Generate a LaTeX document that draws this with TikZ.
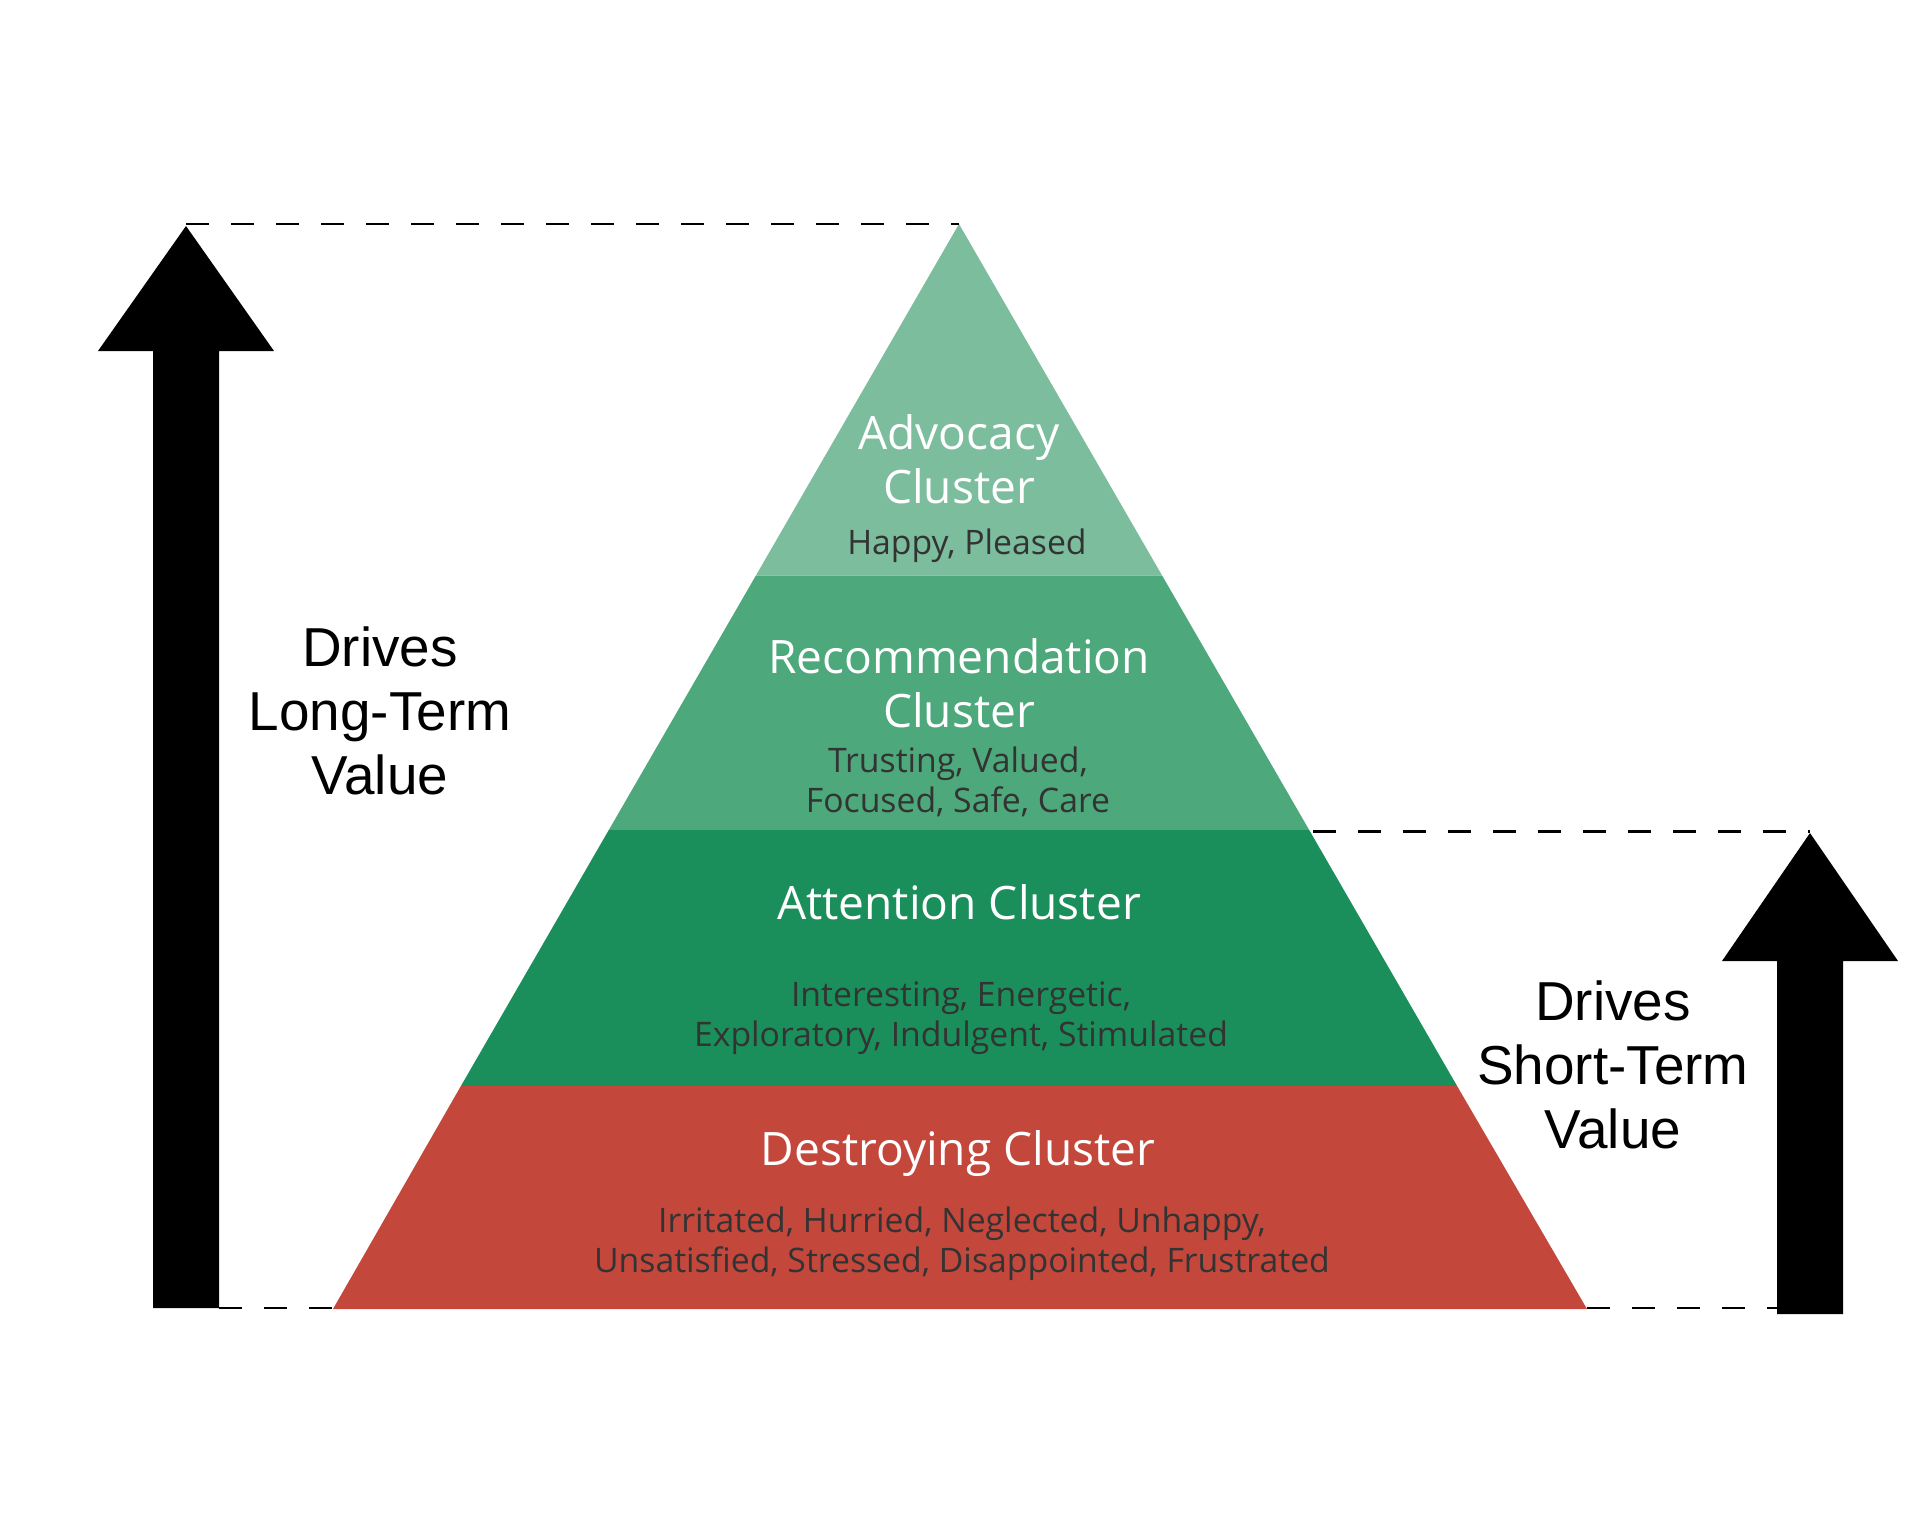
\documentclass[tikz,border=0pt]{standalone}
\usepackage{fontspec}
\setmainfont{Open Sans}
\newfontfamily\arialfont{Liberation Sans}
\definecolor{advgreen}{HTML}{7CBD9E}
\definecolor{recgreen}{HTML}{4DA87C}
\definecolor{attgreen}{HTML}{1B8F5B}
\definecolor{desred}{HTML}{C4473C}
\definecolor{subgray}{HTML}{333333}
\begin{document}
\begin{tikzpicture}[x=0.01cm,y=-0.01cm,
  title/.style={text=white,align=center,font=\fontsize{13.1}{15.4}\selectfont},
  words/.style={text=subgray,align=center,font=\fontsize{9.6}{11.4}\selectfont},
  side/.style={align=center,font=\arialfont\fontsize{15.6}{18.2}\selectfont},
  guide/.style={black,line width=0.7pt,dash pattern=on 6.5pt off 6.3pt}]
\useasboundingbox (0,0) rectangle (1920,1536);
\coordinate (apex) at (959,224);
\coordinate (lt) at (186,226);
\coordinate (rt) at (1810,833);
% pyramid bands
\fill[advgreen] (apex) -- (1162.1,575.5) -- (755.9,575.5) -- cycle;
\fill[recgreen] (755.9,575.5) -- (1162.1,575.5) -- (1309.2,830) -- (608.8,830) -- cycle;
\fill[attgreen] (608.8,830) -- (1309.2,830) -- (1457.1,1086) -- (460.9,1086) -- cycle;
\fill[desred] (460.9,1086) -- (1457.1,1086) -- (1587,1309) -- (333,1309) -- cycle;
% arrows
\fill (lt) -- (274,351) -- (219,351) -- (219,1308) -- (153,1308) -- (153,351) -- (98,351) -- cycle;
\fill (rt) -- (1898,961) -- (1843,961) -- (1843,1314) -- (1777,1314) -- (1777,961) -- (1722,961) -- cycle;
% guide lines
\draw[guide] (lt|-apex) -- (apex);
\draw[guide] (1313,831.5) -- (rt|-0,831.5);
\draw[guide] (219,1308) -- (333,1308);
\draw[guide] (1587,1308) -- (1777,1308);
% texts
\node[title] (advT) at (959,459) {Advocacy\\Cluster};
\node[words] (advW) at (967,546) {Happy, Pleased};
\node[title] (recT) at (959,683) {Recommendation\\Cluster};
\node[words] (recW) at (958,782) {Trusting, Valued,\\Focused, Safe, Care};
\node[title] (attT) at (959,902) {Attention Cluster};
\node[words] (attW) at (961,1018) {Interesting, Energetic,\\Exploratory, Indulgent, Stimulated};
\node[title] (desT) at (958,1154) {Destroying Cluster};
\node[words] (desW) at (962,1244) {Irritated, Hurried, Neglected, Unhappy,\\Unsatisfied, Stressed, Disappointed, Frustrated};
\node[side] (longV) at (380,711) {Drives\\Long-Term\\Value};
\node[side] (shortV) at (1613,1065) {Drives\\Short-Term\\Value};
\end{tikzpicture}
\end{document}
